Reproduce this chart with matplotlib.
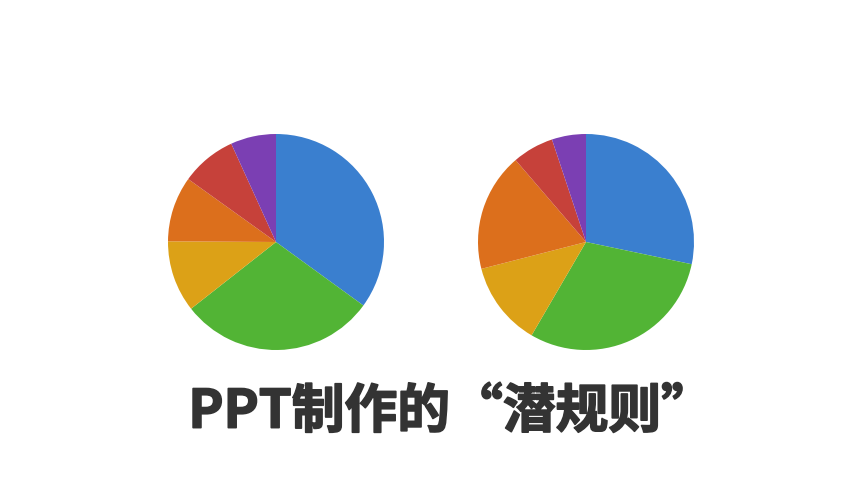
"""Two pie charts with a title banner below: out.png."""

import matplotlib
matplotlib.use("Agg")
import matplotlib.pyplot as plt
import matplotlib.patheffects as pe

# slice shares, clockwise from 12 o'clock (percent)
left_values = [35.0, 29.4, 10.7, 9.8, 8.3, 6.8]
right_values = [28.3, 30.1, 12.6, 17.7, 6.2, 5.1]

slice_colors = ["#3a7fcf", "#52b435", "#dca117", "#dc6f1c", "#c6413a", "#7b3fb3"]

title_text = "PPT制作的“潜规则”"

W, H = 864, 486
R_PX = 108


def _pie_axes(fig, cx, cy):
    # cx, cy in pixels, top-left origin
    left = (cx - R_PX) / W
    bottom = (H - cy - R_PX) / H
    return fig.add_axes([left, bottom, 2 * R_PX / W, 2 * R_PX / H])


def main() -> None:
    fig = plt.figure(figsize=(W / 100, H / 100), dpi=100)
    fig.patch.set_facecolor("white")

    for cx, values in [(276, left_values), (586, right_values)]:
        ax = _pie_axes(fig, cx, 242)
        ax.pie(values, colors=slice_colors, startangle=90, counterclock=False,
               radius=1.0, wedgeprops=dict(linewidth=0))
        ax.set_xlim(-1, 1)
        ax.set_ylim(-1, 1)
        ax.axis("off")

    fig.text(0.522, 0.152, title_text, ha="center", va="center",
             fontsize=38, fontweight="black", color="#333333",
             family=["Noto Sans CJK SC", "DejaVu Sans"],
             path_effects=[pe.withStroke(linewidth=1.2, foreground="#333333")])

    fig.savefig("out.png", dpi=100, facecolor="white")
    plt.close(fig)


if __name__ == "__main__":
    main()
